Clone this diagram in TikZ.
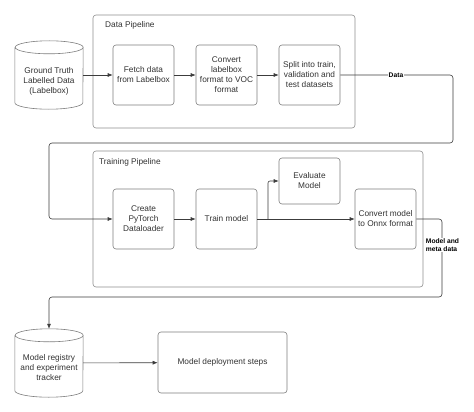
\documentclass[tikz,border=0pt]{standalone}
\usepackage{fontspec}
\setmainfont{Liberation Sans}
\usetikzlibrary{arrows.meta}
\definecolor{boxc}{HTML}{7F7F7F}
\definecolor{contc}{HTML}{8F8F8F}
\definecolor{linec}{HTML}{3C3C3C}
\definecolor{txtc}{HTML}{333333}
\newcommand{\mycyl}[1]{%
  \draw[draw=boxc, line width=0.6pt, fill=white]
    ([yshift=-6.5pt]#1.north west) -- ([yshift=6.5pt]#1.south west)
    arc[start angle=180, end angle=360, x radius=34pt, y radius=6.5pt]
    -- ([yshift=-6.5pt]#1.north east)
    arc[start angle=0, end angle=360, x radius=34pt, y radius=6.5pt];}
\begin{document}
\begin{tikzpicture}[x=1pt,y=-1pt,
  proc/.style={draw=boxc, line width=0.6pt, rounded corners=3pt, minimum width=61pt, minimum height=60pt, align=center, font=\fontsize{8.3}{10}\selectfont, text=txtc, inner sep=1pt, fill=white},
  cont/.style={draw=contc, line width=0.6pt, rounded corners=3pt},
  cylnode/.style={minimum width=68pt, minimum height=68pt, inner sep=0pt},
  cyltext/.style={align=center, font=\fontsize{8.3}{10}\selectfont, text=txtc, inner sep=0pt},
  conn/.style={draw=linec, line width=0.6pt},
  arr/.style={conn, -{Latex[length=5pt,width=4pt]}},
  lbl/.style={font=\bfseries\fontsize{6.7}{8}\selectfont, fill=white, inner sep=1pt, align=left, text=black},
  ttl/.style={font=\fontsize{8.3}{10}\selectfont, text=txtc, anchor=west, inner sep=0pt},
]
\useasboundingbox (0,0) rectangle (474,412);
\fill[white] (0,0) rectangle (474,412);

% containers
\node[cont, minimum width=262pt, minimum height=113pt] (dp) at (224,71.5) {};
\node[ttl] (dpt) at (105,25) {Data Pipeline};
\node[cont, minimum width=330pt, minimum height=136pt] (tp) at (258,219) {};
\node[ttl] (tpt) at (99,162) {Training Pipeline};

% cylinders
\node[cylnode] (gt) at (49,75) {};
\mycyl{gt}
\node[cyltext] (gtt) at (49,81) {Ground Truth\\Labelled Data\\(Labelbox)};
\node[cylnode] (reg) at (49,363) {};
\mycyl{reg}
\node[cyltext] (regt) at (49,368) {Model registry\\and experiment\\tracker};

% process boxes
\node[proc] (fetch) at (143.5,75) {Fetch data\\from Labelbox};
\node[proc] (conv) at (226.5,75) {Convert\\labelbox\\format to VOC\\format};
\node[proc] (split) at (309.5,75) {Split into train,\\validation and\\test datasets};
\node[proc] (create) at (143.5,219) {Create\\PyTorch\\Dataloader};
\node[proc] (train) at (226.5,219) {Train model};
\node[proc, minimum height=46pt] (eval) at (309.5,181) {Evaluate\\Model};
\node[proc] (onnx) at (385.5,219) {Convert model\\to Onnx format};
\node[proc, minimum width=129pt, minimum height=61pt] (deploy) at (222.5,362.5) {Model deployment steps};

% connectors
\draw[arr] (gt) -- (fetch);
\draw[arr] (fetch) -- (conv);
\draw[arr] (conv) -- (split);

\coordinate (d1) at (453,75);
\coordinate (d2) at (453,143);
\coordinate (d3) at (49,143);
\coordinate (d4) at (49,219);
\draw[arr, rounded corners=3pt] (split.east) -- (d1) -- (d2) -- (d3) -- (d4) -- (create.west);
\node[lbl] (datalbl) at (396,75) {Data};

\draw[arr] (create) -- (train);
\draw[arr] (train) -- (onnx);
\coordinate (br) at (268,219);
\draw[arr, rounded corners=2pt] (br) |- (eval.west);

\coordinate (m1) at (442,219);
\coordinate (m2) at (442,297);
\coordinate (m3) at (49,297);
\draw[arr, rounded corners=3pt] (onnx.east) -- (m1) -- (m2) -- (m3) -- (reg.north);
\node[lbl] (mlbl) at (442.5,245) {Model and\\meta data};

\draw[arr] (reg) -- (deploy);
\end{tikzpicture}
\end{document}
